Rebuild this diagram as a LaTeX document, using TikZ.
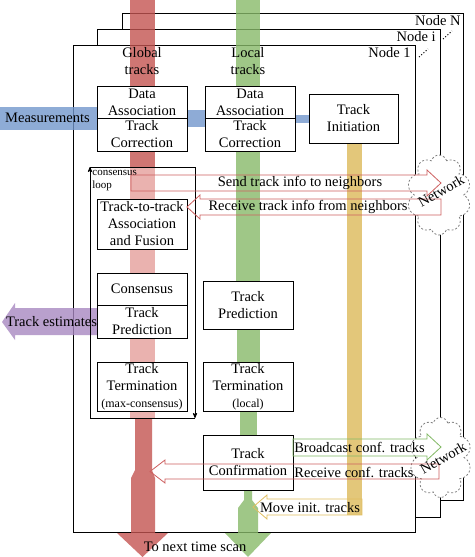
\documentclass[tikz,border=0pt]{standalone}
\usepackage{fontspec}
\setmainfont{Liberation Serif}
\usetikzlibrary{arrows}
\usetikzlibrary{shapes.symbols}

\definecolor{trackred}{RGB}{196,84,81}
\definecolor{trackpink}{RGB}{229,159,156}
\definecolor{trackgreen}{RGB}{136,186,105}
\definecolor{trackgold}{RGB}{221,186,89}
\definecolor{trackblue}{RGB}{114,151,204}
\definecolor{trackpurple}{RGB}{168,136,193}
\definecolor{linered}{RGB}{205,95,95}
\definecolor{linegreen}{RGB}{130,185,100}
\definecolor{linegold}{RGB}{225,190,95}

\tikzset{
  frame/.style={draw, fill=white},
  bar/.style={fill opacity=0.8},
  box/.style={draw, fill=white, minimum width=90, inner sep=0pt, align=center},
  net/.style={cloud, cloud puffs=10, cloud ignores aspect, draw=gray, dash pattern=on 2pt off 2pt, fill=white, inner sep=0pt},
  hollow/.style={line width=0.8pt},
}

\begin{document}
\begin{tikzpicture}[x=1pt, y=-1pt, font=\rmfamily\fontsize{14.5}{17}\selectfont, line width=0.8pt]
\useasboundingbox (0,0) rectangle (474,557);

% node frames, back to front
\draw[frame] (122,13) rectangle (463,500);
\node[anchor=east, inner sep=0pt] (nodeN) at (461,21) {Node N};
\draw[frame] (97,29) rectangle (440,517);
\node[anchor=east, inner sep=0pt] (nodei) at (436,37) {Node i};
\draw[frame] (73,45) rectangle (415,532);
\node[anchor=east, inner sep=0pt] (node1) at (411,53) {Node 1};
\draw[dotted, line width=1pt] (443,39) -- (452,31);
\draw[dotted, line width=1pt] (419,57) -- (428,49);

% track flows
\fill[bar, trackblue] (0,107) rectangle (97,130);
\fill[bar, trackblue] (187,110) rectangle (205,127);
\fill[bar, trackblue] (295,115) rectangle (309,123);
\fill[bar, trackred] (130,0) rectangle (155,167);
\fill[bar, trackpink] (130,167) rectangle (155,418);
\fill[bar, trackred] (135,418) -- (152,418) -- (152,470) -- (155,478) -- (155,533) -- (168,533)
  -- (142.5,557) -- (117,533) -- (131,533) -- (131,478) -- (135,470) -- cycle;
\fill[bar, trackgreen] (236,0) rectangle (260,281);
\fill[bar, trackgreen] (237,329) rectangle (260,362);
\fill[bar, trackgreen] (240,411) rectangle (257,435);
\fill[bar, trackgreen] (244,490) -- (252,490) -- (252,500) -- (258,508) -- (258,533) -- (271,533)
  -- (248,557) -- (225,533) -- (238,533) -- (238,508) -- (244,500) -- cycle;
\fill[bar, trackgold] (347,143) rectangle (362,515);
\fill[bar, trackpurple] (97,308) -- (15,308) -- (15,303) -- (2,322) -- (15,340) -- (15,335) -- (97,335) -- cycle;

\node[align=center] (globlab) at (142,61.5) {Global\\tracks};
\node[align=center] (loclab) at (248,61.5) {Local\\tracks};
\node (meas) at (47.5,118) {Measurements};
\node (est) at (51.5,322) {Track estimates};

% processing blocks
\node[box, minimum height=32] (gda) at (142,102) {Data\\Association};
\node[box, minimum height=33] (gtc) at (142,134.5) {Track\\Correction};
\node[box, minimum height=32] (lda) at (250,102) {Data\\Association};
\node[box, minimum height=33] (ltc) at (250,134.5) {Track\\Correction};
\node[box, minimum width=89, minimum height=49] (init) at (353.5,118.5) {Track\\Initiation};
\node[box, minimum height=50] (t2t) at (142,224) {Track-to-track\\Association\\and Fusion};
\node[box, minimum height=32] (cons) at (142,289) {Consensus};
\node[box, minimum height=33] (gpred) at (142,321.5) {Track\\Prediction};
\node[box, minimum height=48] (lpred) at (248,305) {Track\\Prediction};
\node[box, minimum height=49] (gterm) at (142,386.5) {Track\\Termination\\{\fontsize{12}{14}\selectfont(max-consensus)}};
\node[box, minimum height=49] (lterm) at (248,386.5) {Track\\Termination\\{\fontsize{12}{14}\selectfont(local)}};
\node[box, minimum height=55] (conf) at (248,462.5) {Track\\Confirmation};

% consensus loop
\coordinate (loopTL) at (90,167);
\coordinate (loopBR) at (195,418);
\draw[->, >=stealth'] (loopTL) -| (loopBR);
\draw[->, >=stealth'] (loopBR) -| (loopTL);
\node[anchor=west, align=left, inner sep=0pt, font=\fontsize{11}{13}\selectfont] (looplab) at (92,180.5) {consensus\\loop};

% network
\node[net, minimum width=64, minimum height=80] (net1) at (439,195) {};
\node[net, minimum width=62, minimum height=80] (net2) at (440.5,457.5) {};

% exchange arrows
\draw[hollow, linered] (131,175) -- (427,175) -- (427,170) -- (441,183) -- (427,196) -- (427,191) -- (131,191) -- cycle;
\draw[hollow, linered] (441,199) -- (200,199) -- (200,195) -- (187,207) -- (200,219) -- (200,215) -- (441,215) -- cycle;
\draw[hollow, linegreen] (293,439) -- (427,439) -- (427,434) -- (441,447) -- (427,460) -- (427,456) -- (293,456) -- cycle;
\draw[hollow, linered] (439,464) -- (165,464) -- (165,460) -- (150,471.5) -- (165,483) -- (165,479) -- (439,479) -- cycle;
\draw[hollow, linegold] (362,499) -- (267,499) -- (267,495) -- (253,507) -- (267,519) -- (267,515) -- (362,515) -- cycle;

\node (send) at (300,183) {Send track info to neighbors};
\node (recv) at (308,207) {Receive track info from neighbors};
\node (bcast) at (359.5,447) {Broadcast conf. tracks};
\node (rconf) at (354,472) {Receive conf. tracks};
\node (move) at (310,508) {Move init. tracks};
\node (next) at (195,547) {To next time scan};
\node[rotate=30] (netlab1) at (441,191) {Network};
\node[rotate=30] (netlab2) at (443,458) {Network};
\end{tikzpicture}
\end{document}
